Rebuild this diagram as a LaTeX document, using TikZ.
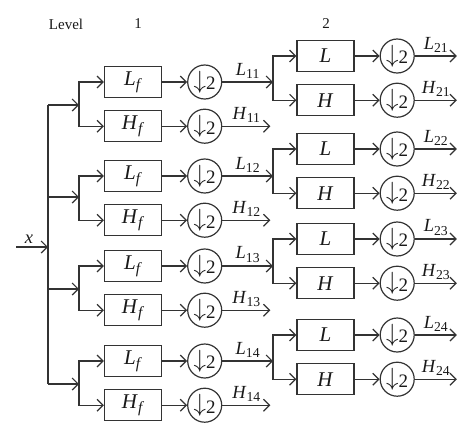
\documentclass[tikz,border=0pt]{standalone}
\usepackage{fontspec}
\setmainfont{Liberation Serif}
\usepackage{tikz}
\usetikzlibrary{arrows.meta,positioning}

\newcommand{\sig}[2]{\textit{#1}\raisebox{-0.4ex}{\scalebox{0.74}{#2}}}
\newcommand{\dwn}{$\downarrow$\raisebox{-0.15ex}{\fontsize{19}{19}\selectfont 2}}

\begin{document}
\begin{tikzpicture}[x=1pt, y=-1pt, >={Straight Barb[length=6pt,width=12pt]}, line width=1.2pt, draw=black!80, text=black!90]

    \tikzstyle{filt} = [rectangle, minimum width=57pt, minimum height=31pt, inner sep=0pt, text centered, draw=black!80, font=\fontsize{21}{22}\selectfont]
    \tikzstyle{down} = [circle, minimum size=34pt, inner sep=0pt, draw=black!80, font=\fontsize{25}{25}\selectfont]
    \tikzstyle{lbl}  = [above, inner sep=3pt, font=\fontsize{18.5}{19}\selectfont]

    \useasboundingbox (0,0) rectangle (474,440);

    % level heads
    \node (lev)  at (66,24)  {\fontsize{15}{16}\selectfont Level};
    \node (lev1) at (138,24) {\fontsize{15}{16}\selectfont 1};
    \node (lev2) at (326,24) {\fontsize{15}{16}\selectfont 2};

    % level 1 filters
    \node (lf1)  [filt] at (133,82)              {\sig{L}{\textit{f}}};
    \node (hf1)  [filt, below=12pt of lf1]       {\sig{H}{\textit{f}}};
    \node (lf2)  [filt] at (133,176)             {\sig{L}{\textit{f}}};
    \node (hf2)  [filt, below=12pt of lf2]       {\sig{H}{\textit{f}}};
    \node (lf3)  [filt] at (133,266)             {\sig{L}{\textit{f}}};
    \node (hf3)  [filt, below=12pt of lf3]       {\sig{H}{\textit{f}}};
    \node (lf4)  [filt] at (133,361)             {\sig{L}{\textit{f}}};
    \node (hf4)  [filt, below=12pt of lf4]       {\sig{H}{\textit{f}}};

    \node (dlf1) [down, right=25pt of lf1]       {\dwn};
    \node (dhf1) [down, right=25pt of hf1]       {\dwn};
    \node (dlf2) [down, right=25pt of lf2]       {\dwn};
    \node (dhf2) [down, right=25pt of hf2]       {\dwn};
    \node (dlf3) [down, right=25pt of lf3]       {\dwn};
    \node (dhf3) [down, right=25pt of hf3]       {\dwn};
    \node (dlf4) [down, right=25pt of lf4]       {\dwn};
    \node (dhf4) [down, right=25pt of hf4]       {\dwn};

    % level 2 filters
    \node (l1)   [filt] at (325.5,56)            {\textit{L}};
    \node (h1)   [filt, below=12pt of l1]        {\textit{H}};
    \node (l2)   [filt] at (325.5,149)           {\textit{L}};
    \node (h2)   [filt, below=12pt of l2]        {\textit{H}};
    \node (l3)   [filt] at (325.5,239)           {\textit{L}};
    \node (h3)   [filt, below=12pt of l3]        {\textit{H}};
    \node (l4)   [filt] at (325.5,335)           {\textit{L}};
    \node (h4)   [filt, below=12pt of l4]        {\textit{H}};

    \node (dl1)  [down, right=25pt of l1]        {\dwn};
    \node (dh1)  [down, right=25pt of h1]        {\dwn};
    \node (dl2)  [down, right=25pt of l2]        {\dwn};
    \node (dh2)  [down, right=25pt of h2]        {\dwn};
    \node (dl3)  [down, right=25pt of l3]        {\dwn};
    \node (dh3)  [down, right=25pt of h3]        {\dwn};
    \node (dl4)  [down, right=25pt of l4]        {\dwn};
    \node (dh4)  [down, right=25pt of h4]        {\dwn};

    % input trunk and branch points
    \coordinate (xin) at (16,247);
    \coordinate (xt)  at (48,247);
    \coordinate (t1)  at (48,105);
    \coordinate (t2)  at (48,197);
    \coordinate (t3)  at (48,289);
    \coordinate (t4)  at (48,384);
    \coordinate (b1)  at (79,105);
    \coordinate (b2)  at (79,197);
    \coordinate (b3)  at (79,289);
    \coordinate (b4)  at (79,384);

    \coordinate (c1)  at (273,82);
    \coordinate (c2)  at (273,176);
    \coordinate (c3)  at (273,266);
    \coordinate (c4)  at (273,361);

    % free ends of the outputs
    \node (eh1)  [coordinate, right=48pt of dhf1] {};
    \node (eh2)  [coordinate, right=48pt of dhf2] {};
    \node (eh3)  [coordinate, right=48pt of dhf3] {};
    \node (eh4)  [coordinate, right=48pt of dhf4] {};

    \node (el1)  [coordinate, right=42pt of dl1]  {};
    \node (eh21) [coordinate, right=42pt of dh1]  {};
    \node (el2)  [coordinate, right=42pt of dl2]  {};
    \node (eh22) [coordinate, right=42pt of dh2]  {};
    \node (el3)  [coordinate, right=42pt of dl3]  {};
    \node (eh23) [coordinate, right=42pt of dh3]  {};
    \node (el4)  [coordinate, right=42pt of dl4]  {};
    \node (eh24) [coordinate, right=42pt of dh4]  {};

    \path[->] (xin) edge node[lbl, xshift=-3pt] {\textit{x}} (xt);
    \draw (t1) -- (t4);

    \draw[->] (t1) -- (b1);
    \draw[->] (t2) -- (b2);
    \draw[->] (t3) -- (b3);
    \draw[->] (t4) -- (b4);

    \draw[->] (b1) |- (lf1);
    \draw[->] (b1) |- (hf1);
    \draw[->] (b2) |- (lf2);
    \draw[->] (b2) |- (hf2);
    \draw[->] (b3) |- (lf3);
    \draw[->] (b3) |- (hf3);
    \draw[->] (b4) |- (lf4);
    \draw[->] (b4) |- (hf4);

    \path[->] (lf1) edge (dlf1)  (hf1) edge (dhf1);
    \path[->] (lf2) edge (dlf2)  (hf2) edge (dhf2);
    \path[->] (lf3) edge (dlf3)  (hf3) edge (dhf3);
    \path[->] (lf4) edge (dlf4)  (hf4) edge (dhf4);

    \path[->] (dlf1) edge node[lbl] {\sig{L}{11}} (c1);
    \path[->] (dhf1) edge node[lbl] {\sig{H}{11}} (eh1);
    \path[->] (dlf2) edge node[lbl] {\sig{L}{12}} (c2);
    \path[->] (dhf2) edge node[lbl] {\sig{H}{12}} (eh2);
    \path[->] (dlf3) edge node[lbl] {\sig{L}{13}} (c3);
    \path[->] (dhf3) edge node[lbl] {\sig{H}{13}} (eh3);
    \path[->] (dlf4) edge node[lbl] {\sig{L}{14}} (c4);
    \path[->] (dhf4) edge node[lbl] {\sig{H}{14}} (eh4);

    \draw[->] (c1) |- (l1);
    \draw[->] (c1) |- (h1);
    \draw[->] (c2) |- (l2);
    \draw[->] (c2) |- (h2);
    \draw[->] (c3) |- (l3);
    \draw[->] (c3) |- (h3);
    \draw[->] (c4) |- (l4);
    \draw[->] (c4) |- (h4);

    \path[->] (l1) edge (dl1)  (h1) edge (dh1);
    \path[->] (l2) edge (dl2)  (h2) edge (dh2);
    \path[->] (l3) edge (dl3)  (h3) edge (dh3);
    \path[->] (l4) edge (dl4)  (h4) edge (dh4);

    \path[->] (dl1) edge node[lbl] {\sig{L}{21}} (el1);
    \path[->] (dh1) edge node[lbl] {\sig{H}{21}} (eh21);
    \path[->] (dl2) edge node[lbl] {\sig{L}{22}} (el2);
    \path[->] (dh2) edge node[lbl] {\sig{H}{22}} (eh22);
    \path[->] (dl3) edge node[lbl] {\sig{L}{23}} (el3);
    \path[->] (dh3) edge node[lbl] {\sig{H}{23}} (eh23);
    \path[->] (dl4) edge node[lbl] {\sig{L}{24}} (el4);
    \path[->] (dh4) edge node[lbl] {\sig{H}{24}} (eh24);

\end{tikzpicture}
\end{document}
